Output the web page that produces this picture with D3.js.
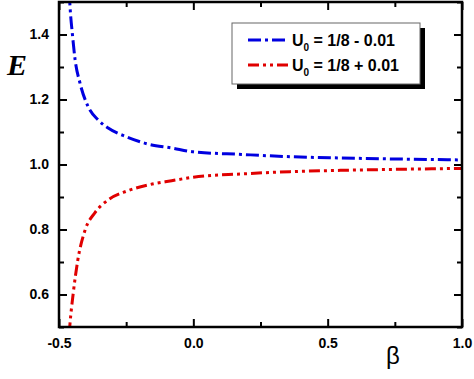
<!DOCTYPE html>
<html><head><meta charset="utf-8">
<script src="https://cdn.jsdelivr.net/npm/d3@7/dist/d3.min.js"></script>
<style>body{margin:0;background:#fff}svg{display:block}</style>
</head><body>
<svg id="c" width="474" height="379"></svg>
<script>
const blueBeta = [-0.462, -0.459, -0.450, -0.440, -0.422, -0.391, -0.354, -0.317, -0.248, -0.169, -0.081, 0.0, 0.18, 0.36, 0.55, 0.75, 1.0];
const blueE    = [1.53, 1.486, 1.40, 1.322, 1.251, 1.177, 1.137, 1.112, 1.085, 1.063, 1.051, 1.039, 1.031, 1.024, 1.020, 1.017, 1.014];
const redBeta  = [-0.462, -0.459, -0.447, -0.430, -0.403, -0.366, -0.317, -0.248, -0.168, -0.081, 0.0, 0.18, 0.36, 0.55, 0.75, 1.0];
const redE     = [0.48, 0.511, 0.604, 0.706, 0.798, 0.852, 0.891, 0.918, 0.937, 0.950, 0.961, 0.971, 0.978, 0.982, 0.985, 0.988];
const xTicks = [-0.5, 0.0, 0.5, 1.0];
const xTickLabels = ["-0.5", "0.0", "0.5", "1.0"];
const xMinor = [-0.25, 0.25, 0.75];
const yTicks = [0.6, 0.8, 1.0, 1.2, 1.4];
const yTickLabels = ["0.6", "0.8", "1.0", "1.2", "1.4"];
const yMinor = [0.5, 0.7, 0.9, 1.1, 1.3, 1.5];
const seriesNames = ["1/8 - 0.01", "1/8 + 0.01"];
const seriesColors = ["#0000e0", "#e00000"];
const seriesDash = ["13,4,3,4", "11,4,3,4,3,4"];

const svg = d3.select("#c");
const L = 59, R = 462, T = 2, B = 327;
const x = d3.scaleLinear().domain([-0.5, 1.0]).range([L, R]);
const y = d3.scaleLinear().domain([0.5, 1.5]).range([B, T]);

svg.append("clipPath").attr("id","clip").append("rect")
  .attr("x", L).attr("y", T).attr("width", R-L).attr("height", B-T);

const line = d3.line().x(d=>x(d[0])).y(d=>y(d[1])).curve(d3.curveMonotoneX);
const series = [d3.zip(blueBeta, blueE), d3.zip(redBeta, redE)];
series.forEach((s,i)=>{
  svg.append("path").attr("d", line(s)).attr("clip-path","url(#clip)")
    .attr("fill","none").attr("stroke", seriesColors[i]).attr("stroke-width", 3)
    .attr("stroke-dasharray", seriesDash[i]);
});

const font = "'Liberation Sans', Arial, sans-serif";
function styleAxis(g){
  g.select(".domain").remove();
  g.selectAll("line").attr("stroke","#000").attr("stroke-width",2);
  g.selectAll("text").attr("font-family",font).attr("font-weight","bold").attr("font-size","14px").attr("fill","#000");
}
svg.append("g").attr("transform",`translate(0,${B})`)
  .call(d3.axisBottom(x).tickValues(xTicks).tickFormat((d,i)=>xTickLabels[i]).tickSizeInner(-8).tickSizeOuter(0).tickPadding(11)).call(styleAxis);
svg.append("g").attr("transform",`translate(0,${B})`)
  .call(d3.axisBottom(x).tickValues(xMinor).tickFormat("").tickSize(-5)).call(styleAxis);
svg.append("g").attr("transform",`translate(0,${T})`)
  .call(d3.axisTop(x).tickValues(xTicks).tickFormat("").tickSize(-8)).call(styleAxis);
svg.append("g").attr("transform",`translate(0,${T})`)
  .call(d3.axisTop(x).tickValues(xMinor).tickFormat("").tickSize(-5)).call(styleAxis);
svg.append("g").attr("transform",`translate(${L},0)`)
  .call(d3.axisLeft(y).tickValues(yTicks).tickFormat((d,i)=>yTickLabels[i]).tickSizeInner(-8).tickSizeOuter(0).tickPadding(10)).call(styleAxis);
svg.append("g").attr("transform",`translate(${L},0)`)
  .call(d3.axisLeft(y).tickValues(yMinor).tickFormat("").tickSize(-5)).call(styleAxis);
svg.append("g").attr("transform",`translate(${R},0)`)
  .call(d3.axisRight(y).tickValues(yTicks).tickFormat("").tickSize(-8)).call(styleAxis);
svg.append("g").attr("transform",`translate(${R},0)`)
  .call(d3.axisRight(y).tickValues(yMinor).tickFormat("").tickSize(-5)).call(styleAxis);

svg.append("rect").attr("x",L).attr("y",T).attr("width",R-L).attr("height",B-T)
  .attr("fill","none").attr("stroke","#000").attr("stroke-width",2.5);

svg.append("text").attr("x",17).attr("y",75).attr("text-anchor","middle")
  .attr("font-family","'Liberation Serif','Times New Roman',serif").attr("font-weight","bold").attr("font-style","italic")
  .attr("font-size","30px").text("E");
svg.append("text").attr("x",393).attr("y",364).attr("text-anchor","middle")
  .attr("font-family",font).attr("font-size","24px").text("β");

const lx = 232, ly = 23, lw = 188, lh = 61;
svg.append("rect").attr("x",lx+5).attr("y",ly+5).attr("width",lw).attr("height",lh).attr("fill","#000");
svg.append("rect").attr("x",lx).attr("y",ly).attr("width",lw).attr("height",lh).attr("fill","#fff").attr("stroke","#666").attr("stroke-width",1);
seriesNames.forEach((nm,i)=>{
  const yy = ly + 17 + i*25;
  svg.append("line").attr("x1",lx+16).attr("x2",lx+56).attr("y1",yy).attr("y2",yy)
    .attr("stroke",seriesColors[i]).attr("stroke-width",3).attr("stroke-dasharray",seriesDash[i]);
  const t = svg.append("text").attr("x",lx+60).attr("y",yy+6).attr("font-family",font).attr("font-weight","bold").attr("font-size","16px");
  t.append("tspan").text("U");
  t.append("tspan").attr("font-size","10px").attr("dy",5).text("0");
  t.append("tspan").attr("dy",-5).text(" = " + nm);
});
</script>
</body></html>
